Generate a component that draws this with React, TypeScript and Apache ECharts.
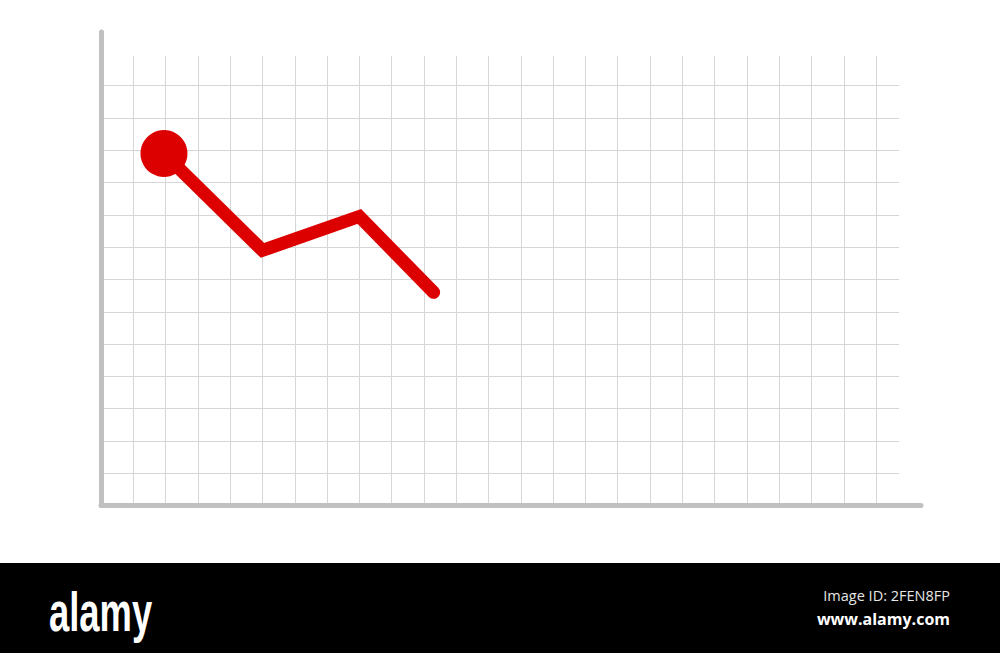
import React, { useRef, useEffect } from 'react';
import * as echarts from 'echarts';

// x / y in grid squares, counted from the axis corner
const xValues = [1.95, 5, 8, 10.3];
const yValues = [10.9, 7.9, 8.95, 6.6];

const logoText = 'alamy';
const imageIdText = 'Image ID: 2FEN8FP';
const siteText = 'www.alamy.com';

const RED = '#dd0000';

const App: React.FC = () => {
  const chartRef = useRef<HTMLDivElement>(null);

  useEffect(() => {
    if (!chartRef.current) return;
    const chart = echarts.init(chartRef.current, null, { renderer: 'svg' });

    const points = xValues.map((x, i) => [x, yValues[i]]);

    const option = {
      animation: false,
      backgroundColor: '#ffffff',
      grid: [
        // inner grid: the squares
        { left: 101, right: 101, top: 56, bottom: 147.5 },
        // outer grid: the two thick axis lines
        { left: 101, right: 79, top: 32, bottom: 147.5 },
      ],
      xAxis: [
        {
          type: 'value',
          gridIndex: 0,
          min: 0,
          max: 24.71,
          interval: 1,
          axisLine: { show: false },
          axisTick: { show: false },
          axisLabel: { show: false },
          splitLine: {
            show: true,
            showMinLine: false,
            showMaxLine: false,
            lineStyle: { color: '#d6d6d6', width: 1 },
          },
        },
        {
          type: 'value',
          gridIndex: 1,
          min: 0,
          max: 25.39,
          axisLine: { show: true, lineStyle: { color: '#c0c0c0', width: 5 } },
          axisTick: { show: false },
          axisLabel: { show: false },
          splitLine: { show: false },
        },
      ],
      yAxis: [
        {
          type: 'value',
          gridIndex: 0,
          min: 0,
          max: 13.92,
          interval: 1,
          axisLine: { show: false },
          axisTick: { show: false },
          axisLabel: { show: false },
          splitLine: {
            show: true,
            showMinLine: false,
            showMaxLine: false,
            lineStyle: { color: '#d6d6d6', width: 1 },
          },
        },
        {
          type: 'value',
          gridIndex: 1,
          min: 0,
          max: 14.66,
          axisLine: { show: true, onZero: false, lineStyle: { color: '#c0c0c0', width: 5 } },
          axisTick: { show: false },
          axisLabel: { show: false },
          splitLine: { show: false },
        },
      ],
      series: [
        {
          type: 'line',
          xAxisIndex: 0,
          yAxisIndex: 0,
          data: points,
          symbol: 'circle',
          showSymbol: true,
          symbolSize: (_v: any, p: any) => (p.dataIndex === 0 ? 47 : 0),
          itemStyle: { color: RED },
          lineStyle: { color: RED, width: 13, cap: 'round', join: 'miter' },
          silent: true,
          z: 5,
        },
      ],
      graphic: [
        {
          type: 'rect',
          left: 0,
          top: 563,
          shape: { width: 1000, height: 90 },
          style: { fill: '#000000' },
          silent: true,
        },
        {
          type: 'text',
          x: 49,
          y: 611,
          scaleX: 0.65,
          style: {
            text: logoText,
            fill: '#ffffff',
            font: 'bold 56px "Liberation Sans Narrow", "Liberation Sans", sans-serif',
            verticalAlign: 'middle',
            align: 'left',
          },
          silent: true,
        },
        {
          type: 'text',
          x: 950,
          y: 595,
          style: {
            text: imageIdText,
            fill: '#e6e6e6',
            font: '14.5px "Open Sans", sans-serif',
            align: 'right',
            verticalAlign: 'middle',
          },
          silent: true,
        },
        {
          type: 'text',
          x: 950,
          y: 619,
          style: {
            text: siteText,
            fill: '#ffffff',
            font: 'bold 16px "Open Sans", sans-serif',
            align: 'right',
            verticalAlign: 'middle',
          },
          silent: true,
        },
      ],
    };
    chart.setOption(option);

    const resize = () => chart.resize();
    window.addEventListener('resize', resize);
    return () => {
      window.removeEventListener('resize', resize);
      chart.dispose();
    };
  }, []);

  return (
    <div
      ref={chartRef}
      style={{ position: 'absolute', left: 0, top: 0, width: 1000, height: 653 }}
    />
  );
};

export default App;
